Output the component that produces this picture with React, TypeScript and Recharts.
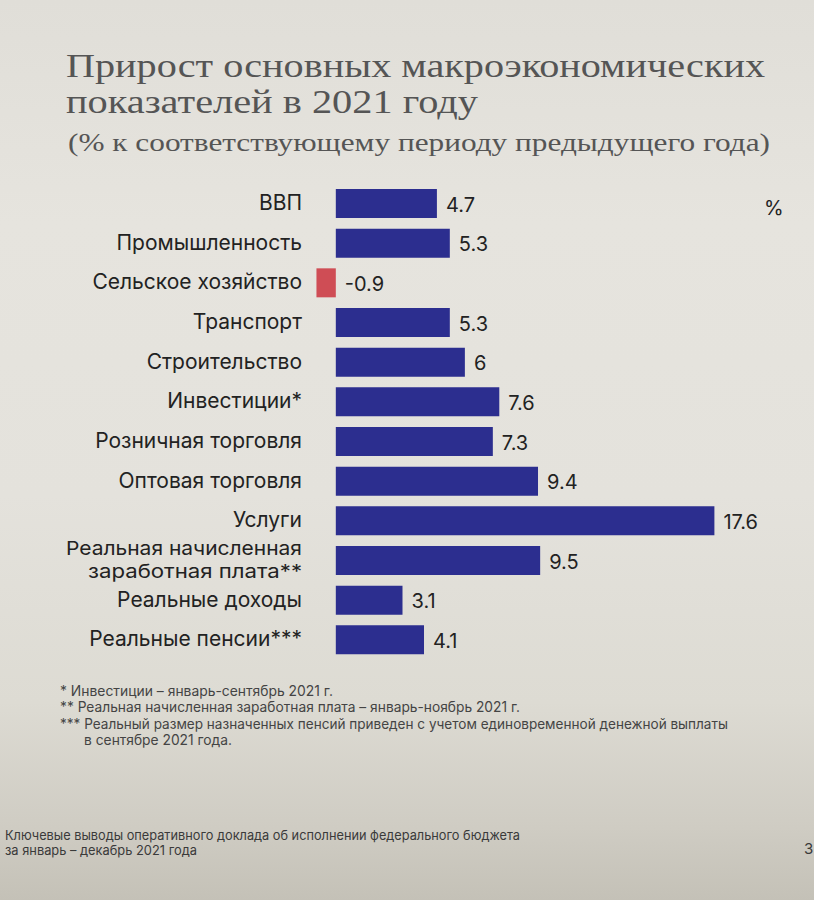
import React from "react";
import { BarChart, Bar, XAxis, YAxis, Cell, LabelList } from "recharts";

const categories = [
  "ВВП",
  "Промышленность",
  "Сельское хозяйство",
  "Транспорт",
  "Строительство",
  "Инвестиции*",
  "Розничная торговля",
  "Оптовая торговля",
  "Услуги",
  "Реальная начисленная\nзаработная плата**",
  "Реальные доходы",
  "Реальные пенсии***",
];
const values = [4.7, 5.3, -0.9, 5.3, 6, 7.6, 7.3, 9.4, 17.6, 9.5, 3.1, 4.1];

const titleLines = ["Прирост основных макроэкономических", "показателей в 2021 году"];
const subtitle = "(% к соответствующему периоду предыдущего года)";
const footnotes = [
  "* Инвестиции – январь-сентябрь 2021 г.",
  "** Реальная начисленная заработная плата – январь-ноябрь 2021 г.",
  "*** Реальный размер назначенных пенсий приведен с учетом единовременной денежной выплаты",
  "в сентябре 2021 года.",
];
const bottomLines = [
  "Ключевые выводы оперативного доклада об исполнении федерального бюджета",
  "за январь – декабрь 2021 года",
];

const data = categories.map((c, i) => ({ name: c, value: values[i] }));

const BLUE = "#2c2e8f";
const RED = "#cf4d55";
const SANS = "Inter, 'Noto Sans', sans-serif";
const SERIF = "'Liberation Serif', 'DejaVu Serif', serif";

const CatTick = (props: any) => {
  const { x, y, payload } = props;
  const lines = String(payload.value).split("\n");
  const lh = 23;
  const startDy = -((lines.length - 1) * lh) / 2 + 6;
  return (
    <g>
      {lines.map((l, i) => (
        <text
          key={i}
          x={x}
          y={Number(y) + startDy + i * lh}
          textAnchor="end"
          fill="#222"
          fontSize={lines.length > 1 ? 19 : 21}
          fontFamily={SANS}
          textLength={lines.length > 1 ? (i === 0 ? 236 : 214) : undefined}
          lengthAdjust="spacingAndGlyphs"
        >
          {l}
        </text>
      ))}
    </g>
  );
};

const ValueLabel = (props: any) => {
  const { x, y, width, height, value } = props;
  const right = Math.max(Number(x), Number(x) + Number(width));
  return (
    <text x={right + 9} y={Number(y) + Number(height) / 2 + 8} fill="#222" fontSize={20} fontFamily={SANS} textAnchor="start">
      {String(value)}
    </text>
  );
};

export default function App() {
  return (
    <div
      style={{
        position: "absolute",
        left: 0,
        top: 0,
        width: 814,
        height: 900,
        overflow: "hidden",
        background:
          "linear-gradient(180deg, #e0ded8 0%, #e6e4de 25%, #e4e2dc 55%, #dddbd3 78%, #cfccc3 92%, #c4c1b7 100%)",
      }}
    >
      <svg width={814} height={900} style={{ position: "absolute", left: 0, top: 0 }}>
        <text x={66} y={77} fill="#555" fontSize={33} fontFamily={SERIF} textLength={699} lengthAdjust="spacingAndGlyphs">
          {titleLines[0]}
        </text>
        <text x={66} y={113} fill="#555" fontSize={33} fontFamily={SERIF} textLength={412} lengthAdjust="spacingAndGlyphs">
          {titleLines[1]}
        </text>
        <text x={68} y={151} fill="#555" fontSize={26} fontFamily={SERIF} textLength={702} lengthAdjust="spacingAndGlyphs">
          {subtitle}
        </text>
        <text x={764} y={215} fill="#222" fontSize={20} fontFamily={SANS}>
          %
        </text>
        <text x={60} y={696} fill="#444" fontSize={14} fontFamily={SANS} textLength={273} lengthAdjust="spacingAndGlyphs">
          {footnotes[0]}
        </text>
        <text x={60} y={712} fill="#444" fontSize={14} fontFamily={SANS} textLength={460} lengthAdjust="spacingAndGlyphs">
          {footnotes[1]}
        </text>
        <text x={60} y={729} fill="#444" fontSize={14} fontFamily={SANS} textLength={668} lengthAdjust="spacingAndGlyphs">
          {footnotes[2]}
        </text>
        <text x={84} y={745} fill="#444" fontSize={14} fontFamily={SANS} textLength={148} lengthAdjust="spacingAndGlyphs">
          {footnotes[3]}
        </text>
        <text x={5} y={840} fill="#3a3a3a" fontSize={13} fontFamily={SANS} textLength={515} lengthAdjust="spacingAndGlyphs">
          {bottomLines[0]}
        </text>
        <text x={5} y={855} fill="#3a3a3a" fontSize={13} fontFamily={SANS} textLength={192} lengthAdjust="spacingAndGlyphs">
          {bottomLines[1]}
        </text>
        <text x={804} y={854} fill="#3a3a3a" fontSize={15} fontFamily={SANS}>
          3
        </text>
      </svg>
      <div style={{ position: "absolute", left: 0, top: 184 }}>
        <BarChart
          width={814}
          height={476}
          data={data}
          layout="vertical"
          margin={{ top: 0, right: 91, left: 0, bottom: 0 }}
          barCategoryGap={0}
          style={{ overflow: "visible" }}
        >
          <XAxis type="number" domain={[-1.2, 18]} hide allowDataOverflow />
          <YAxis
            type="category"
            dataKey="name"
            width={310}
            axisLine={false}
            tickLine={false}
            interval={0}
            tick={<CatTick />}
          />
          <Bar dataKey="value" barSize={29} isAnimationActive={false}>
            {data.map((d, i) => (
              <Cell key={i} fill={d.value < 0 ? RED : BLUE} />
            ))}
            <LabelList dataKey="value" content={<ValueLabel />} />
          </Bar>
        </BarChart>
      </div>
    </div>
  );
}
